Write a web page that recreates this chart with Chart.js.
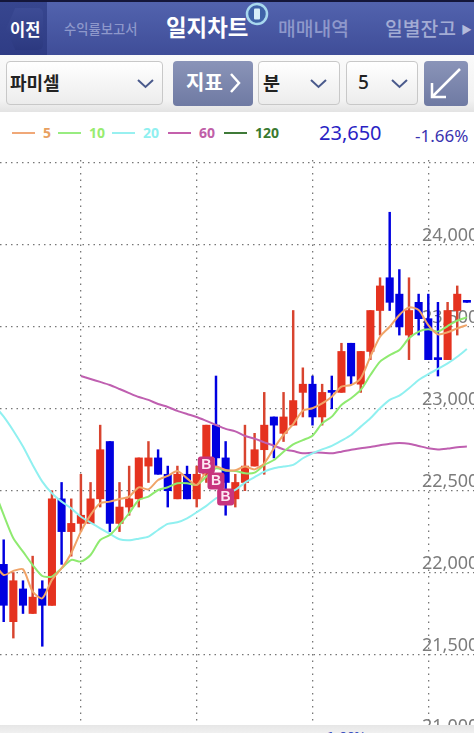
<!DOCTYPE html>
<html><head><meta charset="utf-8">
<script src="https://cdn.jsdelivr.net/npm/chart.js@4/dist/chart.umd.min.js"></script>
<style>
html,body{margin:0;padding:0;background:#fff;width:474px;height:733px;overflow:hidden;font-family:"Noto Sans CJK KR","Noto Sans",sans-serif}
.a{position:absolute;white-space:nowrap;line-height:1}
#wrap{position:absolute;left:0;top:160px;width:474px;height:585px}
#c{display:block}
#nav{position:absolute;left:0;top:0;width:474px;height:55px;background:linear-gradient(#5263ae,#3f4d98);border-top:2px solid #14163a;box-sizing:border-box}
#back{position:absolute;left:0;top:2px;width:47px;height:53px;background:linear-gradient(#37468f,#2f3c85)}
#backb{position:absolute;left:6px;top:8px;width:37px;height:42px;background:linear-gradient(#3d4c96,#2c3980);border-radius:5px;clip-path:polygon(25% 0,100% 0,100% 100%,25% 100%,0 50%)}
#row{position:absolute;left:0;top:55px;width:474px;height:57px;background:linear-gradient(#fafafa,#f2f2f2 80%,#e3e3e3)}
.dd{position:absolute;top:61px;height:44px;box-sizing:border-box;border:1px solid #c8c8c8;border-radius:4px;background:linear-gradient(#fff,#ececec)}
.btn{position:absolute;top:61px;height:45px;border-radius:4px;background:linear-gradient(#8a94b8,#6f7aa3)}
.chev{position:absolute;top:78px;width:17px;height:11px}
.ln{position:absolute;top:132px;height:2px;width:23px}
.lg{position:absolute;top:126px;font-size:14px;font-weight:700;line-height:1;font-family:"Noto Sans",sans-serif}
#foot{position:absolute;left:0;top:725px;width:474px;height:8px;background:linear-gradient(#e6e6e6,#f0f0f0);overflow:hidden}
#foot div{position:absolute;top:5px;font-size:13px;line-height:1;white-space:nowrap;font-weight:600}
</style></head><body>
<div id="wrap"><canvas id="c" width="474" height="585" style="width:474px;height:585px"></canvas></div>
<div id="nav"></div><div id="back"></div><div id="backb"></div>
<div class="a" style="left:10px;top:21px;font-size:16.5px;font-weight:700;color:#fff">이전</div>
<div class="a" style="left:64px;top:22px;font-size:13.3px;font-weight:500;color:#8e98cb">수익률보고서</div>
<div class="a" style="left:166px;top:15px;font-size:22.4px;font-weight:700;color:#fff">일지차트</div>
<svg class="a" style="left:245px;top:2px" width="24" height="24"><circle cx="12" cy="12" r="10" fill="#3f63a8" stroke="#a8d8ee" stroke-width="2.5"/><rect x="9" y="6.5" width="6" height="11" rx="1" fill="#d8eef8"/></svg>
<div class="a" style="left:278px;top:19px;font-size:19.3px;font-weight:500;color:#8e98cb">매매내역</div>
<div class="a" style="left:385px;top:19px;font-size:19.3px;font-weight:500;color:#a3acd4">일별잔고</div>
<div class="a" style="left:461px;top:24px;font-size:11px;color:#b4bbdc">▶</div>
<div id="row"></div>
<div class="dd" style="left:6px;width:157px"></div>
<div class="a" style="left:10px;top:73px;font-size:18px;font-weight:700;color:#222">파미셀</div>
<svg class="chev" style="left:137px"><path d="M1 2 L8.5 9 L16 2" fill="none" stroke="#4a5a8c" stroke-width="2"/></svg>
<div class="btn" style="left:173px;width:80px"></div>
<div class="a" style="left:186px;top:72px;font-size:20px;font-weight:700;color:#fff">지표</div>
<svg class="a" style="left:228px;top:71px" width="14" height="24"><path d="M3 3 L11 12 L3 21" fill="none" stroke="#fff" stroke-width="2.5"/></svg>
<div class="dd" style="left:258px;width:82px"></div>
<div class="a" style="left:263px;top:73px;font-size:18.5px;font-weight:700;color:#222">분</div>
<svg class="chev" style="left:310px"><path d="M1 2 L8.5 9 L16 2" fill="none" stroke="#4a5a8c" stroke-width="2"/></svg>
<div class="dd" style="left:346px;width:72px"></div>
<div class="a" style="left:358px;top:73px;font-size:19px;font-weight:500;color:#222;font-family:'Noto Sans'">5</div>
<svg class="chev" style="left:391px"><path d="M1 2 L8.5 9 L16 2" fill="none" stroke="#4a5a8c" stroke-width="2"/></svg>
<div class="btn" style="left:424px;width:44px"></div>
<svg class="a" style="left:424px;top:61px" width="44" height="45"><path d="M36 8 L8 36 M8 22 L8 36 L22 36" fill="none" stroke="#fff" stroke-width="2.5"/></svg>
<div class="ln" style="left:12px;background:#f0a878"></div><div class="lg" style="left:43px;color:#e8a060">5</div>
<div class="ln" style="left:58px;background:#98ec80"></div><div class="lg" style="left:89px;color:#98ec70">10</div>
<div class="ln" style="left:112px;background:#98f0f0"></div><div class="lg" style="left:143px;color:#90f0f0">20</div>
<div class="ln" style="left:168px;background:#c460ac"></div><div class="lg" style="left:199px;color:#c060a8">60</div>
<div class="ln" style="left:224px;background:#3f7a38"></div><div class="lg" style="left:255px;color:#3a7a30">120</div>
<div class="a" style="left:319px;top:123px;font-size:20px;color:#2a1fc4;font-family:'Noto Sans'">23,650</div>
<div class="a" style="left:415px;top:127px;font-size:17px;color:#3a33b0;font-family:'Noto Sans'">-1.66%</div>
<div id="foot">
<div style="left:322px;color:#3c50c0">-1.66%</div>
</div>
<script>
const idx=[0,1,2,3,4,5,6,7,8,9,10,11,12,13,14,15,16,17,18,19,20,21,22,23,24,25,26,27,28,29,30,31,32,33,34,35,36,37,38,39,40,41,42,43,44,45,46,47,48];
const opens=[22050,21700,21900,21750,21900,21800,22450,22250,22300,22300,22450,22800,22300,22400,22450,22650,22700,22600,22450,22600,22450,22600,22900,22700,22450,22550,22650,22750,22950,22850,22900,23100,23150,22950,23100,23100,23400,23150,23350,23600,23800,23700,23450,23650,23550,23300,23300,23600,23650];
const closes=[21800,21950,21800,21850,21800,22450,22250,22300,22350,22450,22750,22300,22400,22450,22700,22700,22600,22500,22600,22450,22600,22900,22700,22550,22550,22650,22750,22900,22900,22950,23050,23150,22950,23100,23100,23350,23200,23350,23600,23750,23650,23500,23600,23550,23300,23300,23600,23700,23650];
const highs=[22200,22000,21950,22100,21950,22500,22550,22450,22600,22550,22900,22800,22550,22650,22700,22800,22750,22650,22650,22650,22650,22900,23200,22800,22600,22900,22850,23100,22950,23100,23600,23250,23200,23150,23200,23400,23400,23350,23600,23800,24200,23850,23800,23700,23700,23650,23650,23750,23650];
const lows=[21700,21600,21750,21750,21550,21800,22050,22100,22250,22300,22400,22250,22250,22350,22400,22550,22600,22400,22450,22450,22400,22550,22650,22350,22400,22500,22650,22600,22700,22800,22900,22950,22900,22900,23000,23100,23150,23100,23300,23450,23600,23450,23300,23450,23300,23200,23300,23450,23650];
// the moving averages begin one bar before the first visible candle, off the left edge
const lineIdx=[-1,0,1,2,3,4,5,6,7,8,9,10,11,12,13,14,15,16,17,18,19,20,21,22,23,24,25,26,27,28,29,30,31,32,33,34,35,36,37,38,39,40,41,42,43,44,45,46,47,48];
const ma5=[22060,21985,22010,22020,21884,21843,21955,22026,22118,22250,22352,22423,22433,22449,22464,22520,22508,22565,22590,22620,22575,22535,22616,22647,22626,22625,22647,22630,22667,22758,22840,22907,22988,23003,23033,23074,23135,23145,23186,23318,23440,23501,23573,23619,23603,23511,23454,23467,23491,23511];
const ma10=[22505,22352,22209,22128,22046,21979,21975,22026,22077,22067,22107,22199,22229,22291,22362,22443,22464,22504,22521,22545,22545,22535,22586,22636,22622,22620,22606,22610,22657,22687,22738,22783,22809,22836,22911,22952,23023,23064,23115,23206,23288,23328,23359,23430,23471,23485,23471,23505,23538,23558];
const ma20=[23023,22952,22866,22769,22657,22555,22484,22433,22392,22341,22305,22270,22236,22203,22197,22207,22219,22260,22297,22307,22331,22368,22407,22453,22480,22505,22549,22582,22616,22637,22647,22657,22698,22728,22752,22773,22805,22840,22891,22942,23003,23054,23080,23125,23176,23212,23243,23277,23318,23365];
const ma60=[null,null,null,null,null,null,null,null,null,23200,23182,23164,23145,23121,23096,23072,23054,23029,23011,22987,22968,22950,22926,22901,22877,22862,22834,22818,22795,22775,22752,22742,22728,22732,22732,22728,22738,22750,22759,22767,22777,22787,22791,22787,22773,22759,22752,22757,22765,22769];
const buyIdx=[21,22,23];
const buyVals=[22657,22559,22462];
const gridIdx=[8,20,32,44];
const priceTicks=[21000,21500,22000,22500,23000,23500,24000,24500];
const hiddenLabels=[24500];
const RED='#e5321f',BLUE='#0000e0';
const col=idx.map(i=>closes[i]>opens[i]?RED:BLUE);
const wickCol=idx.map(i=>closes[i]>opens[i]?'#d8442f':BLUE);
const line=(arr,c)=>({type:'line',data:lineIdx.map((x,k)=>({x,y:arr[k]})),borderColor:c,borderWidth:2,pointRadius:0,tension:0.25,order:1,spanGaps:false});
const B={id:'buys',afterDatasetsDraw(ch){const {ctx,scales:{x,y}}=ch;
 buyIdx.forEach((i,k)=>{const px=x.getPixelForValue(i),py=y.getPixelForValue(buyVals[k]);
  ctx.save();ctx.fillStyle='#c8347e';ctx.beginPath();ctx.roundRect(px-8.5,py-8.5,17,17,3);ctx.fill();
  ctx.fillStyle='#fde8f2';ctx.font='700 14px "Liberation Sans"';ctx.textAlign='center';ctx.textBaseline='middle';ctx.fillText('B',px,py+0.5);ctx.restore();});}};
new Chart(document.getElementById('c'),{type:'bar',data:{datasets:[
 line(ma5,'#f0a468'),line(ma10,'#8fea70'),line(ma20,'#90f0f0'),line(ma60,'#bf5fb0'),
 {type:'bar',data:idx.map(i=>({x:i,y:[opens[i],closes[i]]})),backgroundColor:col,barThickness:7.4,minBarLength:2,grouped:false,order:2},
 {type:'bar',data:idx.map(i=>({x:i,y:[lows[i],highs[i]]})),backgroundColor:wickCol,barThickness:1.8,grouped:false,order:3}
]},plugins:[B],options:{responsive:false,animation:false,devicePixelRatio:1,events:[],layout:{padding:0},
 plugins:{legend:{display:false},tooltip:{enabled:false}},
 scales:{
  x:{type:'linear',min:-0.383,max:48.736,offset:false,afterBuildTicks(a){a.ticks=gridIdx.map(v=>({value:v}))},
   grid:{offset:false,color:'#777',lineWidth:1.3,drawTicks:false},ticks:{display:false},border:{display:false,dash:[1.5,5]}},
  y:{position:'left',min:20947,max:24519,afterBuildTicks(a){a.ticks=priceTicks.map(v=>({value:v}))},
   afterFit(s){s.width=0;s.paddingTop=0;s.paddingBottom=0},
   grid:{color:'#777',lineWidth:1.3,drawTicks:false},border:{display:false,dash:[1.5,4]},
   ticks:{mirror:true,align:'end',padding:422,color:'#7c7c7c',font:{family:'"Noto Sans"',size:18},callback:v=>hiddenLabels.includes(v)?'':v.toLocaleString('en-US')}}
 }}});
</script>
</body></html>
